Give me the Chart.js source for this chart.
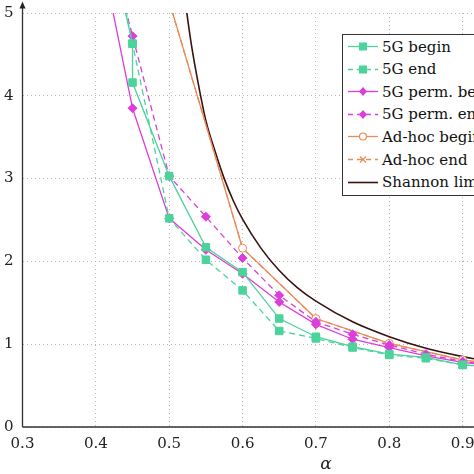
<!DOCTYPE html>
<html>
<head>
<meta charset="utf-8">
<script src="https://cdn.jsdelivr.net/npm/chart.js@4.4.1/dist/chart.umd.min.js"></script>
<style>
    html, body { margin: 0; padding: 0; background: #fff; overflow: hidden; }
    #wrap { position: relative; width: 474px; height: 474px; overflow: hidden; }
    #legend {
        position: absolute; left: 342px; top: 34px; width: 170px; height: 160px;
        border: 1.3px solid #333; background: #fff;
        font-family: "DejaVu Serif", "Liberation Serif", serif;
        font-size: 15px; color: #111;
    }
    .row { position: absolute; left: 5px; height: 22px; display: flex; align-items: center; white-space: nowrap; }
    .row svg { margin-right: 4px; }
</style>
</head>
<body>
<div id="wrap">
    <canvas id="myChart" width="474" height="474"></canvas>
    <div id="legend"></div>
</div>
<script>
// values (alpha on x, rate on y)
const alpha5gBegin = [0.40, 0.45, 0.45, 0.50, 0.55, 0.60, 0.65, 0.70, 0.75, 0.80, 0.85, 0.90, 0.95];
const rate5gBegin  = [6.57, 4.63, 4.16, 3.03, 2.17, 1.87, 1.31, 1.09, 0.97, 0.88, 0.84, 0.75, 0.72];

const alpha5g          = [0.40, 0.45, 0.50, 0.55, 0.60, 0.65, 0.70, 0.75, 0.80, 0.85, 0.90, 0.95];
const rate5gEnd        = [6.80, 4.63, 2.52, 2.02, 1.65, 1.16, 1.07, 0.96, 0.87, 0.83, 0.75, 0.72];
const rate5gPermBegin  = [6.03, 3.85, 2.52, 2.14, 1.85, 1.51, 1.24, 1.06, 0.96, 0.86, 0.78, 0.73];
const rate5gPermEnd    = [6.46, 4.72, 3.03, 2.54, 2.04, 1.59, 1.27, 1.12, 0.99, 0.88, 0.79, 0.74];

const alphaAdhoc     = [0.50, 0.60, 0.70, 0.80, 0.90, 1.00];
const rateAdhocBegin = [5.14, 2.16, 1.31, 1.01, 0.81, 0.69];
const rateAdhocEnd   = [5.14, 2.16, 1.31, 1.01, 0.81, 0.69];

const alphaShannon = [0.52, 0.53, 0.54, 0.55, 0.5625, 0.575, 0.5875, 0.60, 0.625, 0.65, 0.675, 0.70, 0.75, 0.80, 0.85, 0.90, 0.95];
const rateShannon  = [5.26, 4.63, 4.13, 3.70, 3.33, 3.00, 2.73, 2.51, 2.16, 1.89, 1.68, 1.52, 1.27, 1.09, 0.95, 0.85, 0.77];

const yTicks = [0, 1, 2, 3, 4, 5];

const GREEN = "#4cd39b";
const MAGENTA = "#dc3ddc";
const ORANGE = "#e98a57";
const SHANNON = "#3b1212";
const SERIF = "'DejaVu Serif', 'Liberation Serif', serif";

function pts(xs, ys) {
    return xs.map((x, i) => ({ x: x, y: ys[i] }));
}

const datasets = [
    { label: "5G begin", data: pts(alpha5gBegin, rate5gBegin), borderColor: GREEN, backgroundColor: GREEN,
      pointStyle: "rect", pointRadius: 5.3, borderDash: [] },
    { label: "5G end", data: pts(alpha5g, rate5gEnd), borderColor: GREEN, backgroundColor: GREEN,
      pointStyle: "rect", pointRadius: 5.3, borderDash: [6, 4] },
    { label: "5G perm. begin", data: pts(alpha5g, rate5gPermBegin), borderColor: MAGENTA, backgroundColor: MAGENTA,
      pointStyle: "rectRot", pointRadius: 4.5, borderDash: [] },
    { label: "5G perm. end", data: pts(alpha5g, rate5gPermEnd), borderColor: MAGENTA, backgroundColor: MAGENTA,
      pointStyle: "rectRot", pointRadius: 4.5, borderDash: [6, 4] },
    { label: "Ad-hoc begin", data: pts(alphaAdhoc, rateAdhocBegin), borderColor: ORANGE, backgroundColor: "#fff",
      pointStyle: "circle", pointRadius: 4, borderDash: [] },
    { label: "Ad-hoc end", data: pts(alphaAdhoc, rateAdhocEnd), borderColor: ORANGE, backgroundColor: ORANGE,
      pointStyle: "crossRot", pointRadius: 4, borderDash: [6, 4] },
    { label: "Shannon limit", data: pts(alphaShannon, rateShannon), borderColor: SHANNON, backgroundColor: SHANNON,
      pointRadius: 0, borderWidth: 1.6, cubicInterpolationMode: "monotone", borderDash: [] }
];

datasets.forEach(d => {
    d.borderWidth = d.borderWidth || 1.3;
    d.pointBorderColor = d.borderColor;
    d.pointBorderWidth = 1;
    d.pointBackgroundColor = d.backgroundColor;
    d.fill = false;
});

// legend box drawn in html, inside the plot
const legendEl = document.getElementById("legend");
datasets.forEach((d, i) => {
    const row = document.createElement("div");
    row.className = "row";
    row.style.top = (0.5 + 22.6 * i) + "px";
    let marker = "";
    const c = d.borderColor;
    if (d.pointStyle === "rect") marker = `<rect x="11" y="6.5" width="8" height="8" fill="${c}"/>`;
    if (d.pointStyle === "rectRot") marker = `<polygon points="15,6 19,10.5 15,15 11,10.5" fill="${c}"/>`;
    if (d.pointStyle === "circle") marker = `<circle cx="15" cy="10.5" r="3.5" fill="#fff" stroke="${c}" stroke-width="1.2"/>`;
    if (d.pointStyle === "crossRot") marker = `<path d="M12,7.5 L18,13.5 M18,7.5 L12,13.5" stroke="${c}" stroke-width="1.2"/>`;
    const dash = d.borderDash.length ? `stroke-dasharray="5,4"` : "";
    row.innerHTML = `<svg width="30" height="21"><line x1="0" y1="10.5" x2="30" y2="10.5" stroke="${c}" stroke-width="${d.borderWidth}" ${dash}/>${marker}</svg><span>${d.label}</span>`;
    legendEl.appendChild(row);
});

const axesPlugin = {
    id: "axes",
    afterDraw(chart) {
        const { ctx, chartArea: a } = chart;
        ctx.save();
        ctx.strokeStyle = "#333";
        ctx.lineWidth = 1.3;
        ctx.beginPath();
        ctx.moveTo(a.left, a.bottom);
        ctx.lineTo(a.right, a.bottom);
        ctx.moveTo(a.left, a.bottom);
        ctx.lineTo(a.left, 6);
        ctx.stroke();
        ctx.fillStyle = "#222";
        ctx.beginPath();
        ctx.moveTo(a.left, 1.5);
        ctx.lineTo(a.left - 3, 8.5);
        ctx.lineTo(a.left + 3, 8.5);
        ctx.closePath();
        ctx.fill();
        ctx.font = "italic 17px " + SERIF;
        ctx.textAlign = "center";
        ctx.textBaseline = "middle";
        ctx.fillText("α", 326, 465);
        ctx.restore();
    }
};

const tickFont = { family: SERIF, size: 15 };

new Chart(document.getElementById("myChart").getContext("2d"), {
    type: "line",
    data: { datasets: datasets },
    options: {
        responsive: false,
        animation: false,
        layout: { autoPadding: false, padding: { top: 13, left: 0, right: 0, bottom: 0 } },
        plugins: { legend: { display: false }, tooltip: { enabled: false } },
        scales: {
            x: {
                type: "linear",
                min: 0.3,
                max: 0.9155,
                afterFit: s => { s.height = 47; s.paddingLeft = 0; s.paddingRight = 0; },
                border: { display: false, dash: [1, 3] },
                grid: { color: "#b8b8b8", lineWidth: 1, drawTicks: false },
                ticks: {
                    stepSize: 0.1, includeBounds: false, autoSkip: false, maxRotation: 0,
                    padding: 8, color: "#222", font: tickFont,
                    callback: v => Number(v).toFixed(1)
                }
            },
            y: {
                min: 0,
                max: 5,
                afterFit: s => { s.width = 22.5; s.paddingTop = 0; s.paddingBottom = 0; },
                afterBuildTicks: s => { s.ticks = yTicks.map(v => ({ value: v })); },
                border: { display: false, dash: [1, 3] },
                grid: { color: "#b8b8b8", lineWidth: 1, drawTicks: false },
                ticks: { padding: 9, color: "#222", font: tickFont }
            }
        }
    },
    plugins: [axesPlugin]
});
</script>
</body>
</html>
